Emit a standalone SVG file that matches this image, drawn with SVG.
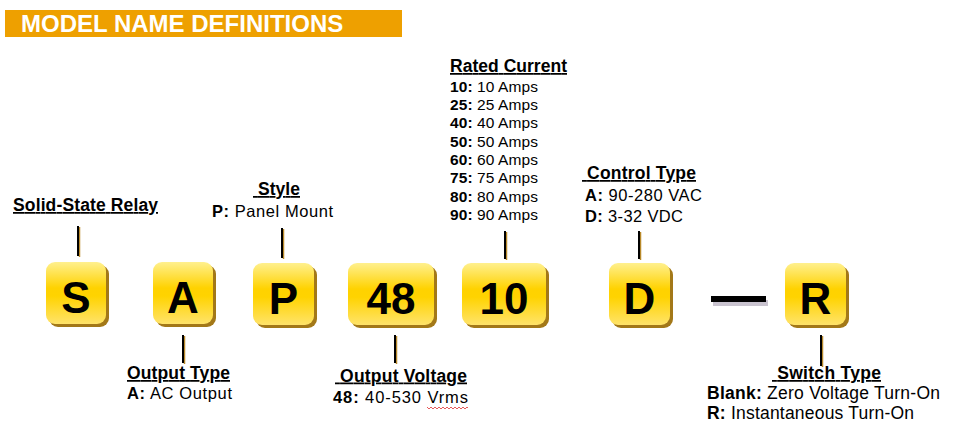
<svg xmlns="http://www.w3.org/2000/svg" width="956" height="433" viewBox="0 0 956 433">
<defs>
<linearGradient id="gold" x1="0" y1="0" x2="0" y2="1">
<stop offset="0" stop-color="#FFF08E"/>
<stop offset="0.42" stop-color="#FFD200"/>
<stop offset="0.55" stop-color="#FFD300"/>
<stop offset="1" stop-color="#FFE36A"/>
</linearGradient>
<style>
.hdr{font-family:"Liberation Sans",Arial,sans-serif;font-weight:bold;font-size:24px;fill:#fff}
.shadow{fill:#A37818}
.box{fill:url(#gold)}
.code{font-family:"Liberation Sans",Arial,sans-serif;font-weight:bold;font-size:44px;fill:#000;text-anchor:middle}
.head{font-family:"Liberation Sans",Arial,sans-serif;font-weight:bold;font-size:17.5px;fill:#000;text-decoration:underline}
.body{font-family:"Liberation Sans",Arial,sans-serif;font-size:16.5px;fill:#000}
.rc{font-family:"Liberation Sans",Arial,sans-serif;font-size:15.5px;fill:#000}
.sw{font-family:"Liberation Sans",Arial,sans-serif;font-size:17.5px;fill:#000}
.b{font-weight:bold}
.ln{stroke:#000;stroke-width:2;fill:none}
.lns{stroke:#B8892A;stroke-width:1.5;fill:none}
</style>
</defs>
<rect width="956" height="433" fill="#fff"/>

<g id="title">
<rect x="5" y="10" width="397" height="27" fill="#EEA000"/>
<text class="hdr" x="21" y="32">MODEL NAME DEFINITIONS</text>
</g>

<g id="node-S">
<rect class="shadow" x="49" y="265" width="60" height="62" rx="9"/>
<rect class="box" x="46" y="262" width="60" height="62" rx="9"/>
<text class="code" x="76" y="313">S</text>
</g>
<g id="node-A">
<rect class="shadow" x="156" y="265" width="60" height="62" rx="9"/>
<rect class="box" x="153" y="262" width="60" height="62" rx="9"/>
<text class="code" x="183" y="313">A</text>
</g>
<g id="node-P">
<rect class="shadow" x="256" y="266" width="61" height="62" rx="9"/>
<rect class="box" x="253" y="263" width="61" height="62" rx="9"/>
<text class="code" x="283.5" y="314">P</text>
</g>
<g id="node-48">
<rect class="shadow" x="351" y="266" width="86" height="62" rx="9"/>
<rect class="box" x="348" y="263" width="86" height="62" rx="9"/>
<text class="code" x="391" y="314">48</text>
</g>
<g id="node-10">
<rect class="shadow" x="465" y="266" width="84" height="62" rx="9"/>
<rect class="box" x="462" y="263" width="84" height="62" rx="9"/>
<text class="code" x="504" y="314">10</text>
</g>
<g id="node-D">
<rect class="shadow" x="612" y="266" width="61" height="62" rx="9"/>
<rect class="box" x="609" y="263" width="61" height="62" rx="9"/>
<text class="code" x="639.5" y="314">D</text>
</g>
<g id="node-dash">
<rect x="713" y="300" width="55" height="6" fill="#C9C3CF"/>
<rect x="711" y="296" width="55" height="6" fill="#000"/>
</g>
<g id="node-R">
<rect class="shadow" x="788" y="266" width="61" height="62" rx="9"/>
<rect class="box" x="785" y="263" width="61" height="62" rx="9"/>
<text class="code" x="815.5" y="314">R</text>
</g>

<g id="connectors">
<line class="lns" x1="79.5" y1="227" x2="79.5" y2="257"/>
<line class="ln" x1="78" y1="226" x2="78" y2="256"/>
<line class="lns" x1="283.5" y1="229" x2="283.5" y2="259"/>
<line class="ln" x1="282" y1="228" x2="282" y2="258"/>
<line class="lns" x1="506.5" y1="232" x2="506.5" y2="260"/>
<line class="ln" x1="505" y1="231" x2="505" y2="259"/>
<line class="lns" x1="640.5" y1="232" x2="640.5" y2="260"/>
<line class="ln" x1="639" y1="231" x2="639" y2="259"/>
<line class="lns" x1="184.5" y1="336" x2="184.5" y2="364"/>
<line class="ln" x1="183" y1="335" x2="183" y2="363"/>
<line class="lns" x1="396.5" y1="336" x2="396.5" y2="364"/>
<line class="ln" x1="395" y1="335" x2="395" y2="363"/>
<line class="lns" x1="822.5" y1="336" x2="822.5" y2="367"/>
<line class="ln" x1="821" y1="335" x2="821" y2="366"/>
</g>

<g id="label-ssr">
<text class="head" x="13" y="211" textLength="145">Solid-State Relay</text>
</g>
<g id="label-style">
<text class="head" x="253" y="195" textLength="47">&#160;Style</text>
<text class="body" x="212" y="217" textLength="121"><tspan class="b">P:</tspan> Panel Mount</text>
</g>
<g id="label-current">
<text class="head" x="450" y="72" textLength="117">Rated Current</text>
<text class="rc" x="450" y="91.7" textLength="88"><tspan class="b">10:</tspan> 10 Amps</text>
<text class="rc" x="450" y="110" textLength="88"><tspan class="b">25:</tspan> 25 Amps</text>
<text class="rc" x="450" y="128.3" textLength="88"><tspan class="b">40:</tspan> 40 Amps</text>
<text class="rc" x="450" y="146.7" textLength="88"><tspan class="b">50:</tspan> 50 Amps</text>
<text class="rc" x="450" y="165" textLength="88"><tspan class="b">60:</tspan> 60 Amps</text>
<text class="rc" x="450" y="183.3" textLength="88"><tspan class="b">75:</tspan> 75 Amps</text>
<text class="rc" x="450" y="201.7" textLength="88"><tspan class="b">80:</tspan> 80 Amps</text>
<text class="rc" x="450" y="220" textLength="88"><tspan class="b">90:</tspan> 90 Amps</text>
</g>
<g id="label-control">
<text class="head" x="582" y="179" textLength="114">&#160;Control Type</text>
<text class="body" x="585" y="200.5" textLength="117"><tspan class="b">A:</tspan> 90-280 VAC</text>
<text class="body" x="585" y="222.3" textLength="98"><tspan class="b">D:</tspan> 3-32 VDC</text>
</g>
<g id="label-output-type">
<text class="head" x="127" y="379" textLength="103">Output Type</text>
<text class="body" x="127" y="399" textLength="105"><tspan class="b">A:</tspan> AC Output</text>
</g>
<g id="label-output-voltage">
<text class="head" x="335" y="381.5" textLength="132">&#160;Output Voltage</text>
<text class="body" x="333" y="403.3" textLength="135"><tspan class="b">48:</tspan> 40-530 Vrms</text>
<polyline points="427,407 429,409 431,407 433,409 435,407 437,409 439,407 441,409 443,407 445,409 447,407 449,409 451,407 453,409 455,407 457,409 459,407 461,409 463,407 465,409 467,407 468,408" fill="none" stroke="#E03030" stroke-width="0.8"/>
</g>
<g id="label-switch">
<text class="head" x="772" y="379" textLength="109">&#160;Switch Type</text>
<text class="sw" x="707" y="398.5" textLength="233"><tspan class="b">Blank:</tspan> Zero Voltage Turn-On</text>
<text class="sw" x="707" y="418.5" textLength="207"><tspan class="b">R:</tspan> Instantaneous Turn-On</text>
</g>
</svg>
